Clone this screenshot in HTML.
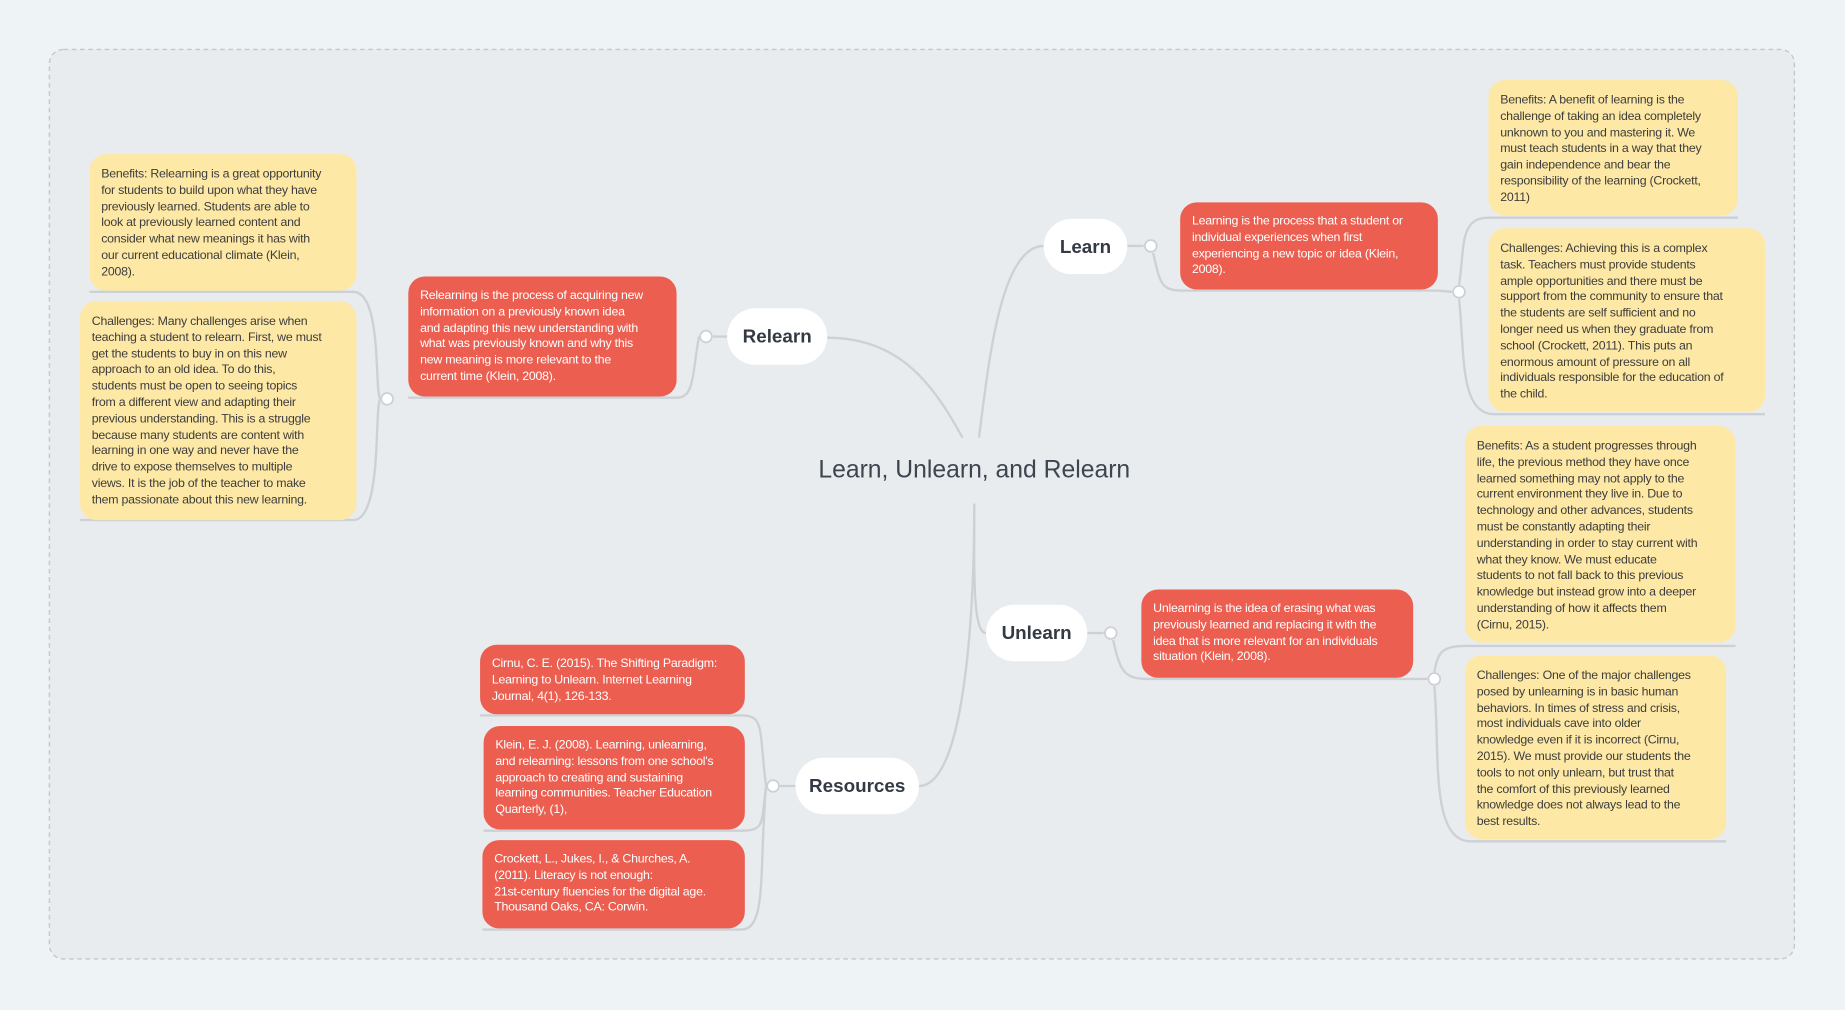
<!DOCTYPE html>
<html><head><meta charset="utf-8"><style>
html,body{margin:0;padding:0;background:#eef3f6;width:1845px;height:1010px;overflow:hidden}
#s{position:absolute;left:0;top:0;width:1568px;height:858px;transform:scale(1.17666);transform-origin:0 0;font-family:"Liberation Sans",sans-serif}
.b{position:absolute;box-sizing:border-box;border-radius:14px;font-size:10.5px;line-height:13.8px;white-space:nowrap;letter-spacing:-0.2px;padding:10px 0 0 10px}
.r{background:#eb5e50;color:#fff}
.y{background:#fde8a5;color:#3d3d3d}
.n{position:absolute;background:#fff;border-radius:24px;font-weight:bold;font-size:16px;color:#333a44;display:flex;align-items:center;justify-content:center;padding-top:2px;box-sizing:border-box}
svg{position:absolute;left:0;top:0}
</style></head><body><div id="s">
<svg width="1568" height="858" fill="none">
<rect x="42" y="42" width="1483" height="773" rx="12" fill="#e8ecef" stroke="#c4c8cc" stroke-dasharray="4 3" stroke-width="1.2"/>
<g stroke="#cdd1d5" stroke-width="2">
<path d="M818 372 C790 320 760 287 703 287"/>
<path d="M832 372 C840 310 850 209 887 209"/>
<path d="M828 428 C828 480 826 538 838 538"/>
<path d="M828 428 C828 520 820 668 781 668"/>
<path d="M618 286 H606 M594 286 C588 320 590 338 575 338 H347"/>
<path d="M323 339 C318 330 325 248 300 248 H76 M323 339 C318 350 325 442 300 442 H68"/>
<path d="M958 209 H972 M980 215 C986 240 986 247 1005 247 H1222 L1234 248"/>
<path d="M1240 242 C1245 210 1240 185 1265 185 H1477 M1240 254 C1245 300 1240 352 1270 352 H1500"/>
<path d="M924 538 H938 M946 544 C952 570 955 577 975 577 H1201 L1213 577"/>
<path d="M1219 571 C1222 555 1225 549 1245 549 H1475 M1219 583 C1224 640 1215 715 1250 715 H1467"/>
<path d="M676 668 H663 M651 668 C645 620 650 608 630 608 H408 M651 668 C647 700 650 706 630 706 H411 M651 668 C645 740 652 790 630 790 H410"/>
</g>
<g stroke="#cdd1d5" stroke-width="1.5" fill="#fff">
<circle cx="600" cy="286" r="5"/><circle cx="329" cy="339" r="5"/><circle cx="978" cy="209" r="5"/><circle cx="1240" cy="248" r="5"/><circle cx="944" cy="538" r="5"/><circle cx="1219" cy="577" r="5"/><circle cx="657" cy="668" r="5"/>
</g>
</svg>
<div style="position:absolute;left:628px;top:388px;width:400px;text-align:center;font-size:21px;color:#3d4550">Learn, Unlearn, and Relearn</div>
<div class="n" style="left:618px;top:262px;width:85px;height:48px">Relearn</div>
<div class="n" style="left:887px;top:186px;width:71px;height:47px">Learn</div>
<div class="n" style="left:838px;top:514px;width:86px;height:48px">Unlearn</div>
<div class="n" style="left:676px;top:644px;width:105px;height:48px">Resources</div>

<div class="b r" style="left:347px;top:235px;width:228px;height:102px">Relearning is the process of acquiring new<br>information on a previously known idea<br>and adapting this new understanding with<br>what was previously known and why this<br>new meaning is more relevant to the<br>current time (Klein, 2008).</div>
<div class="b r" style="left:1003px;top:172px;width:219px;height:74px">Learning is the process that a student or<br>individual experiences when first<br>experiencing a new topic or idea (Klein,<br>2008).</div>
<div class="b r" style="left:970px;top:501px;width:231px;height:75px">Unlearning is the idea of erasing what was<br>previously learned and replacing it with the<br>idea that is more relevant for an individuals<br>situation (Klein, 2008).</div>
<div class="b r" style="left:408px;top:548px;width:225px;height:59px">Cirnu, C. E. (2015). The Shifting Paradigm:<br>Learning to Unlearn. Internet Learning<br>Journal, 4(1), 126-133.</div>
<div class="b r" style="left:411px;top:617px;width:222px;height:88px">Klein, E. J. (2008). Learning, unlearning,<br>and relearning: lessons from one school's<br>approach to creating and sustaining<br>learning communities. Teacher Education<br>Quarterly, (1),</div>
<div class="b r" style="left:410px;top:714px;width:223px;height:75px">Crockett, L., Jukes, I., &amp;  Churches, A.<br>(2011). Literacy is not enough:<br>21st-century fluencies for the digital age.<br>Thousand Oaks, CA: Corwin.</div>

<div class="b y" style="left:76px;top:131px;width:227px;height:116px;padding-top:11px">Benefits: Relearning is a great opportunity<br>for students to build upon what they have<br>previously learned. Students are able to<br>look at previously learned content and<br>consider what new meanings it has with<br>our current educational climate (Klein,<br>2008).</div>
<div class="b y" style="left:68px;top:256px;width:235px;height:186px;padding-top:11px">Challenges: Many challenges arise when<br>teaching a student to relearn. First, we must<br>get the students to buy in on this new<br>approach to an old idea.  To do this,<br>students must be open to seeing topics<br>from a different view and adapting their<br>previous understanding.  This is a struggle<br>because many students are content with<br>learning in one way and never have the<br>drive to expose themselves to multiple<br>views. It is the job of the teacher to make<br>them passionate about this new learning.</div>
<div class="b y" style="left:1265px;top:68px;width:212px;height:115px;padding-top:11px">Benefits: A benefit of learning is the<br>challenge of taking an idea completely<br>unknown to you and mastering it.  We<br>must teach students in a way that they<br>gain independence and bear the<br>responsibility of the learning (Crockett,<br>2011)</div>
<div class="b y" style="left:1265px;top:194px;width:235px;height:156px;padding-top:11px">Challenges: Achieving this is a complex<br>task.  Teachers must provide students<br>ample opportunities and there must be<br>support from the community to ensure that<br>the students are self sufficient and no<br>longer need us when they graduate from<br>school (Crockett, 2011).  This puts an<br>enormous amount of pressure on all<br>individuals responsible for the education of<br>the child.</div>
<div class="b y" style="left:1245px;top:362px;width:230px;height:184px;padding-top:11px">Benefits: As a student progresses through<br>life, the previous method they have once<br>learned something may not apply to the<br>current environment they live in. Due to<br>technology and other advances, students<br>must be constantly adapting their<br>understanding in order to stay current with<br>what they know.  We must educate<br>students to not fall back to this previous<br>knowledge but instead grow into a deeper<br>understanding of how it affects them<br>(Cirnu, 2015).</div>
<div class="b y" style="left:1245px;top:557px;width:222px;height:156px;padding-top:11px">Challenges: One of the major challenges<br>posed by unlearning is in basic human<br>behaviors.  In times of stress and crisis,<br>most individuals cave into older<br>knowledge even if it is incorrect (Cirnu,<br>2015).  We must provide our students the<br>tools to not only unlearn, but trust that<br>the comfort of this previously learned<br>knowledge does not always lead to the<br>best results.</div>
</div></body></html>
